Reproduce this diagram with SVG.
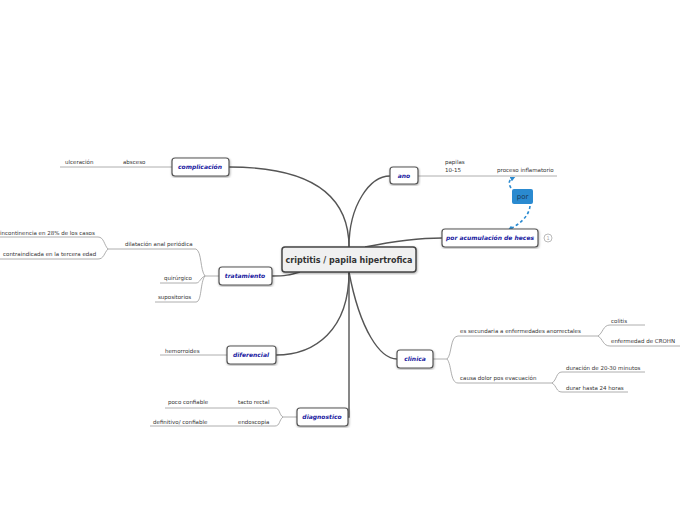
<svg xmlns="http://www.w3.org/2000/svg" width="697" height="520" viewBox="0 0 697 520">
<style>
text{font-family:"DejaVu Sans","Liberation Sans",sans-serif;font-size:5.5px;fill:#333}
.t{font-size:6px;font-weight:bold;font-style:italic;fill:#2020a0;text-anchor:middle}
.n{fill:#fff;stroke:#555;stroke-width:1.2}
.m{fill:none;stroke:#555;stroke-width:1.4}
.s{fill:none;stroke:#999;stroke-width:0.8}
.d{fill:none;stroke:#2a8ad0;stroke-width:1.6;stroke-dasharray:3,2.5}
</style>
<defs>
<marker id="a" markerWidth="5" markerHeight="5" refX="2.5" refY="2.5" orient="auto" markerUnits="userSpaceOnUse"><path d="M0,0L5,2.5L0,5z" fill="#2a8ad0"/></marker>
<filter id="sh"><feDropShadow dx="0.5" dy="1" stdDeviation="0.8" flood-opacity="0.35"/></filter>
</defs>
<g id="connectors">
<path class="m" d="M349,247C349,195 310,167 229,167"/>
<path class="m" d="M300,272C290,275 285,276 272,276"/>
<path class="m" d="M349,272C349,330 315,355 276,355"/>
<path class="m" d="M349,272L349,417L348,417"/>
<path class="m" d="M349,247C349,205 370,176 390,176"/>
<path class="m" d="M365,247C400,240 420,238 442,238"/>
<path class="m" d="M349,272C360,330 380,359 397,359"/>
<path class="s" d="M172,167H60"/>
<path class="s" d="M219,276H205C200,270 202,252 196,249H120"/>
<path class="s" d="M120,249H108C104,245 104,237 98,237H0"/>
<path class="s" d="M108,249C104,253 104,259 98,259H0"/>
<path class="s" d="M205,276C200,278 200,283 196,283H160"/>
<path class="s" d="M205,276C200,282 202,302 196,302H155"/>
<path class="s" d="M227,355H160"/>
<path class="s" d="M297,417H283C279,415 280,408 275,408H165"/>
<path class="s" d="M283,417C279,420 280,426 275,426H150"/>
<path class="s" d="M418,176H557"/>
<path class="s" d="M433,359H447C452,355 450,336 458,336H590"/>
<path class="s" d="M447,359C452,365 450,383 458,383H545"/>
<path class="s" d="M590,336H598C603,333 603,325 610,325H645"/>
<path class="s" d="M598,336C603,339 603,346 610,346H680"/>
<path class="s" d="M545,383H552C557,380 556,372 562,372H645"/>
<path class="s" d="M552,383C557,386 556,392 562,392H628"/>
<path class="d" d="M511,188C508,183 509,180 513,178" marker-end="url(#a)"/>
<path class="d" d="M530,206C529,216 520,224 510,229" marker-end="url(#a)"/>
<circle cx="548" cy="238" r="4" fill="#fff" stroke="#aaa" stroke-width="0.8"/>
<text x="548" y="240" text-anchor="middle" style="font-size:5px;fill:#aaa">1</text>
</g>
<g id="center"><rect x="282" y="247" width="134" height="25" rx="3" fill="#f0f0f0" stroke="#444" stroke-width="1.5" filter="url(#sh)"/><text x="349" y="263" text-anchor="middle" style="font-size:8px;font-weight:bold">criptitis / papila hipertrofica</text></g>
<g id="complicacion"><rect class="n" x="172" y="158" width="57" height="18" rx="3" filter="url(#sh)"/><text class="t" x="200" y="169">complicación</text></g>
<g id="tratamiento"><rect class="n" x="219" y="267" width="53" height="18" rx="3" filter="url(#sh)"/><text class="t" x="245" y="278">tratamiento</text></g>
<g id="diferencial"><rect class="n" x="227" y="346" width="49" height="18" rx="3" filter="url(#sh)"/><text class="t" x="251" y="357">diferencial</text></g>
<g id="diagnostico"><rect class="n" x="297" y="408" width="51" height="18" rx="3" filter="url(#sh)"/><text class="t" x="322" y="419">diagnostico</text></g>
<g id="ano"><rect class="n" x="390" y="167" width="28" height="17" rx="3" filter="url(#sh)"/><text class="t" x="404" y="178">ano</text></g>
<g id="heces"><rect class="n" x="442" y="229" width="96" height="18" rx="3" filter="url(#sh)"/><text class="t" x="490" y="240">por acumulación de heces</text></g>
<g id="clinica"><rect class="n" x="397" y="350" width="36" height="18" rx="3" filter="url(#sh)"/><text class="t" x="415" y="361">clinica</text></g>
<g id="por"><rect x="512" y="189" width="21" height="15" rx="2" fill="#2a8ad0"/><text x="522.5" y="199" text-anchor="middle" style="font-size:7px;fill:#1a3a5a">por</text></g>
<g id="labels">
<text x="123" y="164">absceso</text><text x="65" y="164">ulceración</text>
<text x="125" y="246">dilatación anal periódica</text>
<text x="0" y="235">incontinencia en 28% de los casos</text>
<text x="3" y="256">contraindicada en la tercera edad</text>
<text x="164" y="280">quirúrgico</text><text x="158" y="299">supositorios</text>
<text x="165" y="353">hemorroides</text>
<text x="168" y="404">poco confiable</text><text x="238" y="404">tacto rectal</text>
<text x="153" y="424">definitivo/ confiable</text><text x="238" y="424">endoscopia</text>
<text x="445" y="164">papilas</text><text x="445" y="172">10-15</text><text x="497" y="172">proceso inflamatorio</text>
<text x="460" y="333">es secundaria a enfermedades anorrectales</text>
<text x="611" y="323">colitis</text><text x="611" y="343">enfermedad de CROHN</text>
<text x="460" y="380">causa dolor pos evacuación</text>
<text x="566" y="370">duración de 20-30 minutos</text><text x="566" y="390">durar hasta 24 horas</text>
</g>
</svg>
